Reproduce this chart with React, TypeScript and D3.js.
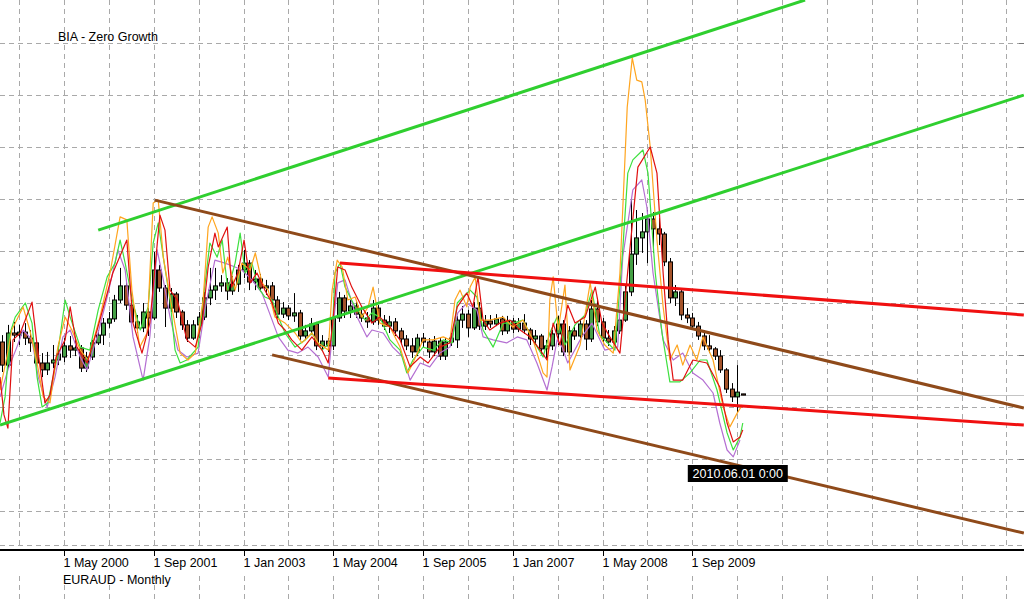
import React from 'react';
import * as d3 from 'd3';

const W = 1024;
const H = 600;

// EURAUD monthly bars, first bar is Jun 1999 (month index counted from Jan 1999)
const firstBar = 5;
const opens = [
  1.660, 1.583, 1.690, 1.683, 1.693, 1.673, 1.657,
  1.590, 1.567, 1.590, 1.600, 1.610, 1.647, 1.633, 1.640, 1.573, 1.610, 1.657, 1.683,
  1.723, 1.737, 1.800, 1.847, 1.783, 1.727, 1.707, 1.760, 1.740, 1.900, 1.840, 1.773,
  1.820, 1.760, 1.717, 1.673, 1.717, 1.743, 1.807, 1.833, 1.847, 1.857, 1.830, 1.853,
  1.900, 1.923, 1.860, 1.870, 1.840, 1.847, 1.800, 1.753, 1.773, 1.747, 1.757, 1.680,
  1.697, 1.720, 1.647, 1.663, 1.647, 1.740, 1.807, 1.763, 1.780, 1.753, 1.740, 1.727,
  1.773, 1.733, 1.713, 1.727, 1.697, 1.670, 1.647, 1.627, 1.673, 1.660, 1.627, 1.663,
  1.613, 1.660, 1.667, 1.733, 1.753, 1.707, 1.773, 1.713, 1.730, 1.720, 1.737, 1.697,
  1.730, 1.703, 1.723, 1.700, 1.670, 1.680, 1.637, 1.647, 1.687, 1.720, 1.627, 1.697,
  1.680, 1.720, 1.670, 1.770, 1.727, 1.673, 1.660, 1.697, 1.733, 1.827, 1.953, 2.007,
  2.027, 2.070, 2.037, 2.020, 1.927, 1.807, 1.827, 1.750, 1.740, 1.713, 1.680, 1.647,
  1.637, 1.613, 1.567, 1.503, 1.477, 1.487,
];
const highs = [
  1.683, 1.717, 1.727, 1.717, 1.723, 1.700, 1.660,
  1.623, 1.627, 1.650, 1.657, 1.673, 1.680, 1.667, 1.650, 1.627, 1.667, 1.700, 1.740,
  1.760, 1.817, 1.907, 1.867, 1.800, 1.750, 1.790, 1.773, 1.960, 1.917, 1.850, 1.840,
  1.827, 1.767, 1.733, 1.733, 1.760, 1.827, 1.907, 1.907, 1.883, 1.873, 1.880, 1.917,
  1.967, 1.933, 1.900, 1.887, 1.867, 1.860, 1.813, 1.793, 1.783, 1.823, 1.767, 1.717,
  1.740, 1.727, 1.683, 1.673, 1.753, 1.827, 1.817, 1.800, 1.793, 1.780, 1.760, 1.800,
  1.783, 1.750, 1.747, 1.740, 1.707, 1.683, 1.673, 1.687, 1.690, 1.673, 1.680, 1.673,
  1.673, 1.690, 1.747, 1.780, 1.767, 1.793, 1.793, 1.750, 1.750, 1.753, 1.747, 1.747,
  1.740, 1.740, 1.753, 1.707, 1.700, 1.687, 1.667, 1.700, 1.747, 1.733, 1.713, 1.717,
  1.733, 1.733, 1.800, 1.807, 1.740, 1.700, 1.713, 1.750, 1.850, 2.133, 2.100, 2.090,
  2.100, 2.093, 2.073, 2.027, 1.940, 1.850, 1.840, 1.773, 1.757, 1.727, 1.700, 1.683,
  1.643, 1.633, 1.573, 1.523, 1.583, 1.487,
];
const lows = [
  1.560, 1.573, 1.660, 1.650, 1.650, 1.627, 1.577,
  1.543, 1.550, 1.573, 1.583, 1.593, 1.607, 1.613, 1.560, 1.560, 1.600, 1.650, 1.650,
  1.707, 1.727, 1.790, 1.767, 1.713, 1.690, 1.693, 1.680, 1.733, 1.827, 1.710, 1.760,
  1.740, 1.700, 1.660, 1.667, 1.673, 1.733, 1.783, 1.800, 1.827, 1.800, 1.817, 1.827,
  1.873, 1.833, 1.833, 1.827, 1.817, 1.787, 1.740, 1.740, 1.733, 1.727, 1.667, 1.667,
  1.683, 1.633, 1.633, 1.627, 1.633, 1.727, 1.740, 1.740, 1.740, 1.727, 1.707, 1.717,
  1.717, 1.700, 1.690, 1.680, 1.653, 1.633, 1.607, 1.613, 1.640, 1.607, 1.613, 1.600,
  1.600, 1.647, 1.640, 1.707, 1.677, 1.700, 1.700, 1.700, 1.707, 1.713, 1.683, 1.687,
  1.690, 1.693, 1.687, 1.650, 1.650, 1.617, 1.607, 1.633, 1.650, 1.613, 1.617, 1.667,
  1.673, 1.633, 1.660, 1.713, 1.660, 1.647, 1.653, 1.687, 1.727, 1.813, 1.917, 1.957,
  1.923, 1.957, 1.983, 1.913, 1.790, 1.780, 1.733, 1.723, 1.700, 1.667, 1.633, 1.623,
  1.600, 1.557, 1.490, 1.460, 1.423, 1.483,
];
const closes = [
  1.583, 1.690, 1.683, 1.693, 1.673, 1.657, 1.590,
  1.567, 1.590, 1.600, 1.620, 1.647, 1.633, 1.640, 1.573, 1.610, 1.657, 1.683, 1.723,
  1.737, 1.800, 1.847, 1.783, 1.727, 1.707, 1.760, 1.740, 1.900, 1.840, 1.773, 1.820,
  1.760, 1.717, 1.673, 1.717, 1.743, 1.807, 1.833, 1.847, 1.857, 1.830, 1.853, 1.900,
  1.923, 1.860, 1.870, 1.840, 1.847, 1.800, 1.753, 1.773, 1.747, 1.757, 1.680, 1.697,
  1.720, 1.647, 1.663, 1.647, 1.740, 1.807, 1.763, 1.780, 1.753, 1.740, 1.727, 1.773,
  1.733, 1.713, 1.727, 1.697, 1.670, 1.647, 1.627, 1.673, 1.660, 1.627, 1.663, 1.613,
  1.660, 1.673, 1.733, 1.753, 1.707, 1.773, 1.713, 1.730, 1.720, 1.737, 1.697, 1.730,
  1.703, 1.723, 1.700, 1.670, 1.680, 1.637, 1.647, 1.687, 1.720, 1.627, 1.697, 1.680,
  1.720, 1.670, 1.770, 1.727, 1.673, 1.660, 1.697, 1.733, 1.827, 1.953, 2.007, 2.027,
  2.070, 2.037, 2.020, 1.927, 1.807, 1.827, 1.750, 1.740, 1.713, 1.680, 1.647, 1.637,
  1.613, 1.567, 1.503, 1.477, 1.493, 1.483,
];

// indicator lines: [month index, price]
const redLine = [
  [4.6, 1.543], [5.3, 1.417], [6.0, 1.373], [6.9, 1.667], [8.2, 1.69], [10.3, 1.793], [11.2, 1.65],
  [12.6, 1.457], [13.5, 1.483], [14.6, 1.61], [16.2, 1.667], [17.1, 1.777], [18.3, 1.643], [20.1, 1.59],
  [21.9, 1.7], [24.7, 1.89], [27.2, 2.0], [28.3, 1.723], [29.9, 1.623], [31.3, 1.723], [33.1, 2.083],
  [34.0, 2.033], [34.9, 1.833], [36.2, 1.8], [37.9, 1.667], [39.4, 1.643], [40.6, 1.723], [41.7, 1.91],
  [42.9, 2.023], [43.5, 1.977], [45.1, 2.043], [45.9, 1.843], [47.0, 1.89], [48.1, 2.0], [49.2, 1.857],
  [50.4, 1.89], [51.8, 1.833], [53.1, 1.79], [54.2, 1.723], [55.4, 1.7], [56.6, 1.667], [58.4, 1.633],
  [60.2, 1.677], [62.0, 1.633], [63.1, 1.59], [63.9, 1.723], [64.8, 1.91], [66.1, 1.9], [67.3, 1.843],
  [69.1, 1.777], [70.9, 1.723], [72.3, 1.743], [74.1, 1.71], [75.9, 1.667], [77.7, 1.577], [79.5, 1.61],
  [80.9, 1.59], [83.0, 1.643], [84.8, 1.657], [86.1, 1.777], [87.8, 1.823], [88.9, 1.777], [89.8, 1.877],
  [90.7, 1.733], [91.9, 1.7], [93.7, 1.723], [95.5, 1.733], [97.3, 1.7], [99.1, 1.677], [100.9, 1.633],
  [102.1, 1.6], [103.2, 1.723], [104.4, 1.65], [105.8, 1.783], [107.1, 1.723], [108.9, 1.743],
  [110.7, 1.843], [111.9, 1.723], [113.3, 1.677], [115.1, 1.623], [116.0, 1.8], [118.3, 2.243],
  [120.5, 2.31], [121.7, 2.223], [122.8, 1.89], [123.7, 1.667], [124.6, 1.533], [126.3, 1.533],
  [128.1, 1.6], [130.6, 1.59], [132.9, 1.51], [134.2, 1.39], [135.3, 1.327], [136.5, 1.343], [137.0, 1.367],
];
const orangeLine = [
  [4.6, 1.5], [5.7, 1.6], [6.7, 1.7], [8.7, 1.777], [9.9, 1.7], [11.2, 1.59], [12.3, 1.477], [13.5, 1.457],
  [14.9, 1.643], [16.2, 1.743], [17.4, 1.7], [18.9, 1.633], [20.3, 1.6], [22.4, 1.743], [24.2, 1.89],
  [26.0, 2.077], [27.2, 2.067], [28.1, 1.833], [29.5, 1.643], [30.8, 1.69], [31.9, 2.123], [32.8, 2.133],
  [33.7, 1.943], [34.9, 1.81], [36.7, 1.623], [38.1, 1.6], [39.4, 1.623], [40.8, 1.8], [41.7, 2.043],
  [42.4, 2.077], [43.5, 2.023], [44.3, 1.89], [45.2, 1.943], [46.5, 1.833], [47.7, 1.923], [49.2, 1.9],
  [50.1, 1.957], [51.3, 1.857], [52.4, 1.833], [53.6, 1.743], [55.4, 1.723], [57.2, 1.69], [58.4, 1.657],
  [60.2, 1.69], [61.3, 1.657], [63.1, 1.633], [63.8, 1.833], [64.7, 1.933], [65.6, 1.91], [66.6, 1.8],
  [67.9, 1.81], [69.1, 1.743], [70.2, 1.777], [71.1, 1.843], [72.3, 1.723], [74.1, 1.71], [75.9, 1.643],
  [77.3, 1.557], [78.2, 1.59], [80.0, 1.667], [81.8, 1.667], [83.6, 1.677], [84.8, 1.667], [85.7, 1.8],
  [86.6, 1.833], [87.8, 1.777], [88.4, 1.843], [89.3, 1.877], [90.2, 1.733], [91.9, 1.733], [94.3, 1.743],
  [96.0, 1.71], [97.8, 1.733], [99.6, 1.667], [101.4, 1.557], [102.1, 1.543], [102.6, 1.8], [103.2, 1.877],
  [104.1, 1.7], [105.3, 1.85], [106.2, 1.567], [108.0, 1.65], [109.8, 1.857], [111.0, 1.7], [112.4, 1.65],
  [113.9, 1.623], [115.1, 1.89], [116.4, 2.443], [117.3, 2.607], [118.1, 2.533], [119.0, 2.527],
  [119.6, 2.467], [120.5, 2.31], [121.7, 2.0], [122.8, 1.777], [124.0, 1.6], [125.3, 1.65], [126.3, 1.583],
  [127.6, 1.65], [128.8, 1.6], [129.9, 1.677], [131.7, 1.6], [133.5, 1.443], [134.7, 1.377], [136.0, 1.423],
  [136.9, 1.45],
];
const greenLine = [
  [4.6, 1.39], [5.5, 1.477], [6.4, 1.69], [7.3, 1.743], [9.1, 1.79], [10.3, 1.723], [11.2, 1.543],
  [12.1, 1.443], [13.1, 1.457], [14.8, 1.61], [16.2, 1.8], [17.1, 1.743], [18.9, 1.643], [20.6, 1.633],
  [22.1, 1.767], [23.7, 1.877], [25.1, 1.923], [26.0, 2.0], [26.9, 1.923], [28.3, 1.79], [29.6, 1.7],
  [31.0, 1.777], [31.9, 1.99], [32.8, 2.057], [33.7, 1.943], [34.9, 1.8], [35.8, 1.633], [36.7, 1.59],
  [37.9, 1.6], [39.9, 1.643], [40.8, 1.8], [42.0, 1.99], [43.3, 1.943], [44.2, 2.0], [45.2, 1.833],
  [46.5, 1.923], [47.4, 2.023], [48.3, 1.89], [49.5, 1.923], [50.6, 1.843], [51.8, 1.81], [53.1, 1.8],
  [54.2, 1.743], [55.4, 1.69], [57.2, 1.643], [59.0, 1.667], [60.2, 1.69], [62.0, 1.633], [63.8, 1.667],
  [64.3, 1.89], [65.2, 1.923], [66.1, 1.843], [67.9, 1.777], [69.7, 1.733], [70.9, 1.757], [72.3, 1.743],
  [74.1, 1.667], [75.9, 1.633], [77.1, 1.557], [78.2, 1.6], [80.0, 1.643], [81.8, 1.633], [83.6, 1.667],
  [85.2, 1.657], [86.1, 1.79], [87.1, 1.81], [88.4, 1.833], [89.6, 1.81], [90.7, 1.7], [92.5, 1.643],
  [94.3, 1.723], [96.0, 1.723], [97.8, 1.733], [99.6, 1.667], [101.4, 1.61], [102.6, 1.69], [103.9, 1.743],
  [105.3, 1.65], [107.1, 1.717], [108.9, 1.75], [110.1, 1.833], [111.5, 1.683], [113.3, 1.65],
  [114.2, 1.633], [115.6, 1.967], [116.5, 2.223], [117.4, 2.267], [119.2, 2.3], [120.1, 2.223],
  [121.4, 1.89], [122.6, 1.69], [124.0, 1.527], [125.8, 1.527], [127.6, 1.557], [129.4, 1.6], [130.6, 1.6],
  [132.4, 1.5], [134.2, 1.357], [135.3, 1.3], [136.5, 1.343], [137.0, 1.39],
];
const purpleLine = [
  [4.6, 1.477], [6.0, 1.567], [7.6, 1.643], [8.7, 1.7], [10.3, 1.667], [11.4, 1.543], [13.0, 1.443],
  [14.4, 1.543], [15.8, 1.677], [17.1, 1.7], [18.9, 1.61], [20.1, 1.567], [21.9, 1.677], [23.7, 1.81],
  [25.6, 1.967], [26.9, 1.9], [28.3, 1.677], [30.1, 1.533], [31.3, 1.677], [32.6, 1.967], [33.7, 1.867],
  [34.9, 1.743], [36.3, 1.633], [37.9, 1.61], [39.9, 1.623], [41.1, 1.767], [42.9, 1.933], [44.7, 1.923],
  [46.5, 1.91], [47.7, 1.9], [49.5, 1.867], [51.3, 1.823], [53.1, 1.733], [54.2, 1.677], [55.9, 1.633],
  [57.7, 1.623], [59.5, 1.643], [61.3, 1.61], [63.1, 1.543], [63.9, 1.7], [64.8, 1.857], [66.1, 1.867],
  [67.9, 1.757], [70.0, 1.677], [70.9, 1.7], [72.9, 1.69], [74.6, 1.643], [76.4, 1.61], [77.7, 1.533],
  [79.5, 1.59], [81.2, 1.577], [83.0, 1.623], [84.8, 1.643], [86.2, 1.757], [87.8, 1.79], [89.6, 1.767],
  [90.7, 1.677], [92.5, 1.667], [94.9, 1.657], [96.8, 1.677], [98.5, 1.667], [100.3, 1.59], [102.1, 1.5],
  [103.0, 1.577], [103.9, 1.667], [104.8, 1.643], [105.8, 1.59], [108.3, 1.677], [110.1, 1.723],
  [112.4, 1.633], [114.7, 1.643], [115.6, 1.943], [117.4, 2.167], [119.0, 2.2], [119.9, 2.11], [121.0, 1.89],
  [122.8, 1.667], [124.6, 1.6], [126.3, 1.623], [128.1, 1.557], [129.9, 1.533], [131.7, 1.49],
  [132.9, 1.39], [134.2, 1.3], [135.3, 1.277], [136.5, 1.333],
];

// hand drawn trend lines: two points each [month index, price]
const greenUpper = [[22.1, 2.033], [148.1, 2.8]];
const greenLower = [[4.6, 1.383], [187.1, 2.483]];
const brownUpper = [[32.2, 2.133], [187.1, 1.44]];
const brownLower = [[53.1, 1.617], [187.1, 1.023]];
const redUpper = [[65.2, 1.923], [187.1, 1.75]];
const redLower = [[63.1, 1.54], [187.1, 1.383]];

const bidPrice = 1.483;
const gridPrices = [2.657, 2.483, 2.31, 2.137, 1.963, 1.79, 1.617, 1.443, 1.27, 1.097];
const gridMonths = d3.range(8, 190, 8);
const labelMonths = [16, 32, 48, 64, 80, 96, 112, 128];
const lastMonth = 137;

const monthDate = (i: number) => new Date(1999, i, 1);
const fmtTick = d3.timeFormat('%-d %b %Y');
const fmtBox = d3.timeFormat('%Y.%m.%d %-H:%M');

const App = () => {
  const xScale = d3.scaleLinear().domain([16, 128]).range([64, 692.3]);
  const yScale = d3.scaleLinear().domain([290 / 300, 2.8]).range([550, 0]);
  const line = d3.line<number[]>().x(d => xScale(d[0])).y(d => yScale(d[1]));

  const bars = closes.map((c, k) => ({
    i: firstBar + k, o: opens[k], h: highs[k], l: lows[k], c,
  }));

  const font = "Tahoma, 'Liberation Sans', Arial, sans-serif";
  const indicators: [number[][], string][] = [
    [purpleLine, '#b46fd2'],
    [greenLine, '#3ee03e'],
    [orangeLine, '#ffa51f'],
    [redLine, '#e01010'],
  ];
  const trends: [number[][], string][] = [
    [greenUpper, '#2fcf2f'], [greenLower, '#2fcf2f'],
    [brownUpper, '#8f4a1a'], [brownLower, '#8f4a1a'],
    [redUpper, '#f01010'], [redLower, '#f01010'],
  ];
  const boxX = xScale(lastMonth);

  return (
    <svg width={W} height={H} style={{ position: 'absolute', left: 0, top: 0, background: '#fff' }}>
      <defs>
        <clipPath id="plot"><rect x={0} y={0} width={W} height={548} /></clipPath>
      </defs>

      {/* grid */}
      <g stroke="#a9a9a9" strokeWidth={1} strokeDasharray="5,4">
        {gridPrices.map(p => (
          <line key={p} x1={0} x2={W} y1={Math.round(yScale(p)) + 0.5} y2={Math.round(yScale(p)) + 0.5} />
        ))}
        <line x1={0} x2={W} y1={545.5} y2={545.5} />
        {gridMonths.map(m => (
          <g key={m}>
            <line x1={Math.round(xScale(m)) + 0.5} x2={Math.round(xScale(m)) + 0.5} y1={0} y2={546} />
            <line x1={Math.round(xScale(m)) + 0.5} x2={Math.round(xScale(m)) + 0.5} y1={576} y2={H} />
          </g>
        ))}
      </g>
      {gridPrices.map(p => (
        <line key={'t' + p} x1={1019} x2={W} y1={Math.round(yScale(p)) + 0.5} y2={Math.round(yScale(p)) + 0.5} stroke="#777" />
      ))}

      {/* bid line */}
      <line x1={0} x2={W} y1={Math.round(yScale(bidPrice)) + 0.5} y2={Math.round(yScale(bidPrice)) + 0.5} stroke="#c4c4c4" />

      {/* candles */}
      <g>
        {bars.map(b => {
          const x = Math.round(xScale(b.i));
          const top = yScale(Math.max(b.o, b.c));
          const bot = yScale(Math.min(b.o, b.c));
          const bull = b.c >= b.o;
          return (
            <g key={b.i}>
              <line x1={x + 0.5} x2={x + 0.5} y1={yScale(b.h)} y2={yScale(b.l)} stroke="#000" />
              <rect x={x - 1.5} y={top} width={4} height={Math.max(1, bot - top)}
                fill={bull ? '#45a045' : '#a4532a'} stroke="#000" strokeWidth={1} />
            </g>
          );
        })}
      </g>

      {/* indicators */}
      <g clipPath="url(#plot)" fill="none">
        {indicators.map(([d, c], k) => (
          <path key={k} d={line(d) || ''} stroke={c} strokeWidth={1.2} strokeLinejoin="round" />
        ))}
      </g>

      {/* trend lines */}
      <g clipPath="url(#plot)" fill="none">
        {trends.map(([d, c], k) => (
          <path key={k} d={line(d) || ''} stroke={c} strokeWidth={3} />
        ))}
      </g>

      {/* axis */}
      <line x1={0} x2={W} y1={550} y2={550} stroke="#000" strokeWidth={2} />
      {labelMonths.map(m => {
        const x = Math.round(xScale(m)) + 0.5;
        return (
          <g key={m}>
            <line x1={x} x2={x} y1={550} y2={556} stroke="#000" />
            <text x={x - 1} y={567} fontFamily={font} fontSize={12.5} fill="#000">{fmtTick(monthDate(m))}</text>
          </g>
        );
      })}
      <text x={63} y={584} fontFamily={font} fontSize={12.5} fill="#000">EURAUD - Monthly</text>
      <text x={58} y={41} fontFamily={font} fontSize={12.5} fill="#000">BIA - Zero Growth</text>

      {/* date label at the last bar */}
      <rect x={boxX - 55} y={465} width={100} height={17} fill="#000" />
      <text x={boxX - 5} y={478} textAnchor="middle" fontFamily={font} fontSize={12.5} fill="#fff">
        {fmtBox(monthDate(lastMonth))}
      </text>
    </svg>
  );
};

export default App;
